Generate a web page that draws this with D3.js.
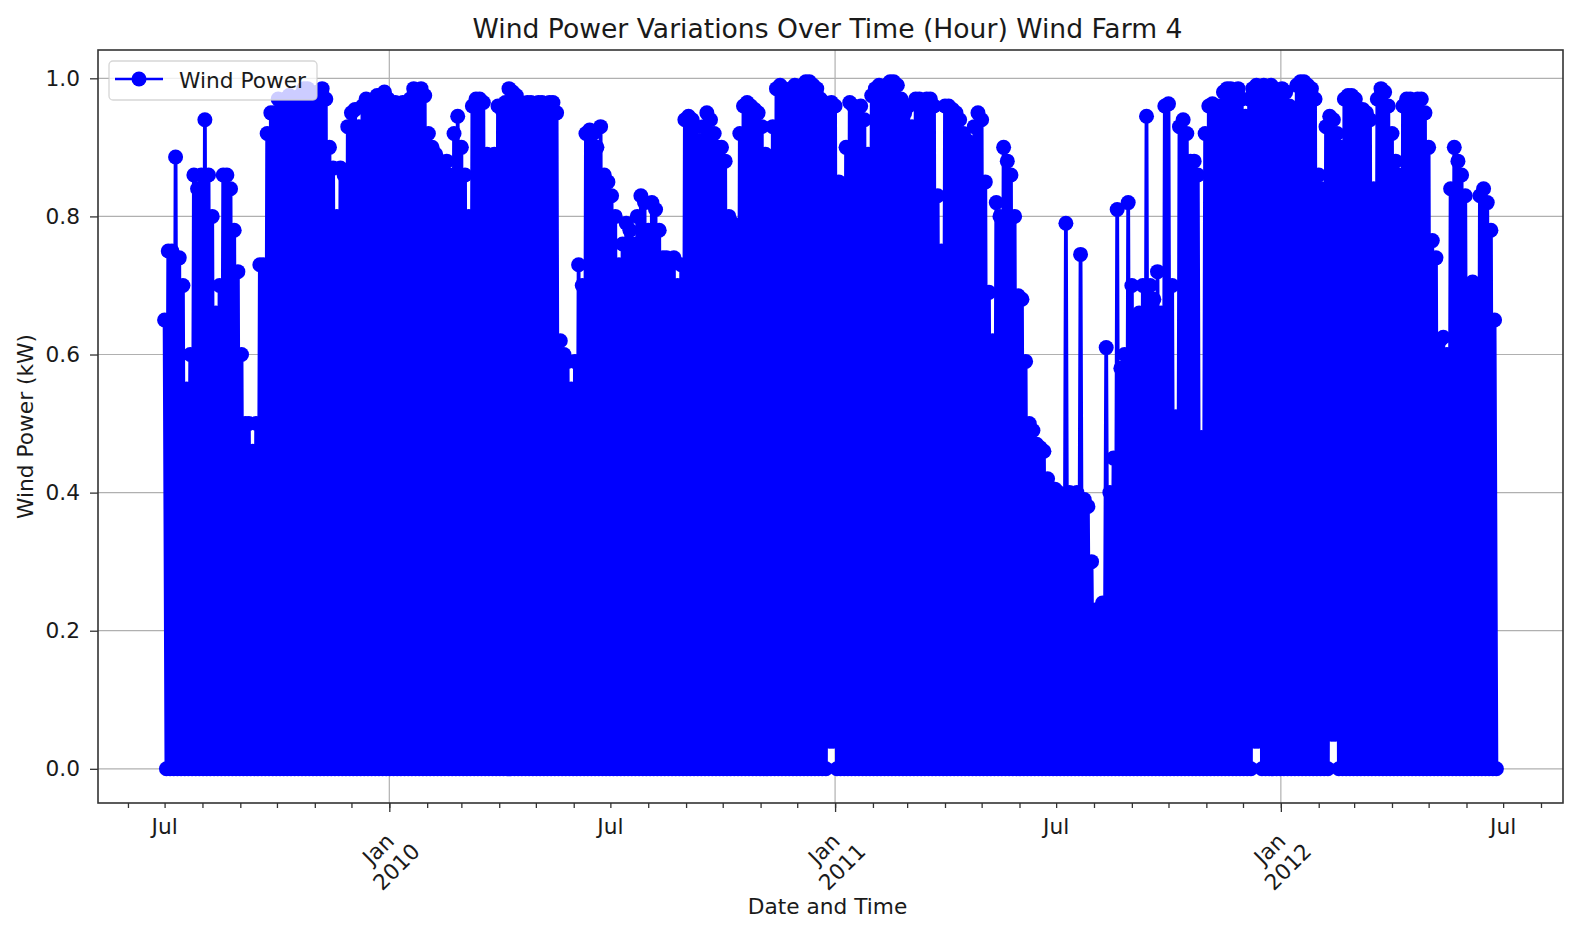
<!DOCTYPE html>
<html>
<head>
<meta charset="utf-8">
<script src="https://d3js.org/d3.v7.min.js"></script>
<style>
body { margin: 0; background: #fff; }
text { font-family: "DejaVu Sans", sans-serif; font-size: 21.7px; fill: #1a1a1a; }
</style>
</head>
<body>
<svg width="1576" height="938"></svg>
<script>
// readings: one peak then one low every 36 h, starting 1 Jul 2009
const startDate = "2009-07-01T00:00:00Z";
const stepHours = 36;

const power2009H2 = [
  0.65,0, 0.75,0, 0.75,0, 0.886,0, 0.74,0, 0.70,0, 0.55,0, 0.60,0, 0.86,0, 0.84,0,
  0.86,0, 0.94,0, 0.86,0, 0.80,0, 0.66,0, 0.70,0, 0.86,0, 0.86,0, 0.84,0, 0.78,0,
  0.72,0, 0.60,0, 0.50,0, 0.50,0, 0.46,0, 0.50,0, 0.73,0, 0.73,0, 0.92,0, 0.95,0,
  0.95,0, 0.97,0, 0.96,0, 0.97,0, 0.975,0, 0.97,0, 0.96,0, 0.975,0, 0.985,0, 0.985,0,
  0.98,0, 0.975,0, 0.98,0, 0.985,0, 0.97,0, 0.90,0, 0.87,0, 0.80,0, 0.87,0, 0.86,0,
  0.93,0, 0.95,0, 0.955,0, 0.93,0, 0.96,0, 0.97,0, 0.96,0, 0.965,0, 0.975,0, 0.975,0,
  0.98,0, 0.97,0
];
const power2010H1 = [
  0.96,0, 0.965,0, 0.955,0, 0.965,0, 0.96,0, 0.97,0, 0.985,0, 0.98,0, 0.985,0, 0.975,0,
  0.92,0, 0.90,0, 0.89,0, 0.88,0, 0.87,0, 0.88,0, 0.86,0, 0.92,0, 0.945,0, 0.90,0,
  0.86,0, 0.80,0, 0.96,0, 0.97,0, 0.97,0, 0.965,0, 0.89,0, 0.88,0, 0.89,0, 0.96,0,
  0.955,0, 0.965,0, 0.985,0, 0.98,0, 0.975,0, 0.965,0, 0.96,0, 0.965,0, 0.965,0, 0.96,0,
  0.965,0, 0.965,0, 0.96,0, 0.965,0, 0.965,0, 0.95,0, 0.62,0, 0.60,0, 0.59,0, 0.55,0,
  0.59,0, 0.73,0, 0.70,0, 0.92,0, 0.925,0, 0.92,0, 0.90,0, 0.93,0, 0.86,0, 0.85,0
];
const power2010H2 = [
  0.83,0, 0.80,0, 0.73,0, 0.76,0, 0.79,0, 0.78,0, 0.76,0, 0.80,0, 0.83,0, 0.82,0,
  0.78,0, 0.82,0, 0.81,0, 0.78,0, 0.74,0, 0.74,0, 0.73,0, 0.74,0, 0.70,0, 0.73,0,
  0.94,0, 0.945,0, 0.94,0, 0.93,0, 0.91,0, 0.93,0, 0.95,0, 0.94,0, 0.92,0, 0.90,0,
  0.90,0, 0.88,0, 0.80,0, 0.79,0, 0.78,0, 0.92,0, 0.96,0, 0.965,0, 0.96,0, 0.955,0,
  0.95,0, 0.93,0, 0.89,0, 0.88,0, 0.93,0, 0.985,0, 0.99,0, 0.985,0, 0.98,0, 0.985,0,
  0.99,0, 0.985,0, 0.99,0, 0.995,0, 0.995,0, 0.99,0, 0.985,0, 0.97,0, 0.965,0, 0.96,0.04,
  0.965,0.04
];
const power2011H1 = [
  0.96,0, 0.85,0, 0.84,0, 0.90,0, 0.965,0, 0.96,0, 0.95,0, 0.96,0, 0.94,0, 0.89,0,
  0.975,0, 0.985,0, 0.99,0, 0.985,0, 0.99,0, 0.995,0, 0.995,0, 0.99,0, 0.97,0, 0.95,0,
  0.96,0, 0.93,0, 0.97,0, 0.97,0, 0.965,0, 0.97,0, 0.97,0, 0.96,0, 0.83,0, 0.75,0,
  0.96,0, 0.96,0, 0.955,0, 0.95,0, 0.94,0, 0.92,0, 0.91,0, 0.90,0, 0.93,0, 0.95,0,
  0.94,0, 0.85,0, 0.69,0, 0.62,0, 0.82,0, 0.80,0, 0.90,0, 0.88,0, 0.86,0, 0.80,0,
  0.685,0, 0.68,0, 0.59,0, 0.50,0, 0.49,0, 0.47,0, 0.465,0, 0.46,0, 0.42,0, 0.40,0,
  0.405,0
];
const power2011H2 = [
  0.40,0, 0.39,0, 0.79,0, 0.40,0, 0.39,0, 0.40,0, 0.745,0, 0.39,0, 0.38,0, 0.30,0,
  0.23,0, 0.22,0, 0.24,0, 0.61,0, 0.40,0, 0.45,0, 0.81,0, 0.58,0, 0.60,0, 0.82,0,
  0.70,0, 0.65,0, 0.66,0, 0.70,0, 0.945,0, 0.70,0, 0.68,0, 0.72,0, 0.66,0, 0.96,0,
  0.963,0, 0.70,0, 0.51,0, 0.93,0, 0.94,0, 0.92,0, 0.88,0, 0.88,0, 0.86,0, 0.48,0,
  0.92,0, 0.96,0, 0.963,0, 0.95,0, 0.96,0, 0.98,0, 0.985,0, 0.985,0, 0.98,0, 0.985,0,
  0.97,0, 0.945,0, 0.97,0, 0.985,0.04, 0.99,0.04, 0.985,0, 0.99,0, 0.985,0, 0.99,0, 0.985,0,
  0.98,0
];
const power2012H1 = [
  0.985,0, 0.98,0, 0.96,0, 0.95,0, 0.99,0, 0.995,0, 0.995,0, 0.99,0, 0.985,0, 0.97,0,
  0.86,0, 0.84,0, 0.93,0, 0.945,0.05, 0.94,0.05, 0.92,0, 0.90,0, 0.97,0, 0.975,0, 0.975,0,
  0.97,0, 0.95,0, 0.955,0, 0.95,0, 0.94,0, 0.84,0, 0.97,0, 0.985,0, 0.98,0, 0.96,0,
  0.92,0, 0.88,0, 0.86,0, 0.96,0, 0.97,0, 0.97,0, 0.965,0, 0.97,0, 0.97,0, 0.95,0,
  0.90,0, 0.765,0, 0.74,0, 0.62,0, 0.625,0, 0.60,0, 0.84,0, 0.90,0, 0.88,0, 0.86,0,
  0.83,0, 0.70,0, 0.705,0, 0.70,0, 0.83,0, 0.84,0, 0.82,0, 0.78,0, 0.65,0
];

const yTicks = [0, 0.2, 0.4, 0.6, 0.8, 1.0];
const yDomain = [-0.0495, 1.041];
const chartTitle = "Wind Power Variations Over Time (Hour) Wind Farm 4";
const xLabel = "Date and Time";
const yLabel = "Wind Power (kW)";
const seriesName = "Wind Power";

const svg = d3.select("svg");
const L = 98, R = 1563, T = 50, B = 803;
const blue = "#0000ff";

const power = [].concat(power2009H2, power2010H1, power2010H2, power2011H1, power2011H2, power2012H1);
const t0 = Date.parse(startDate);
const data = power.map((v, k) => ({ t: new Date(t0 + k * stepHours * 3600e3), v }));

// matplotlib-style 5% margin on the time axis
const first = +data[0].t, last = +data[data.length - 1].t;
const pad = (last - first) * 0.05;
const x = d3.scaleUtc().domain([new Date(first - pad), new Date(last + pad)]).range([L, R]);
const y = d3.scaleLinear().domain(yDomain).range([B, T]);

const years = x.ticks(d3.utcYear.every(1));
const months = x.ticks(d3.utcMonth.every(1));

// grid
const grid = svg.append("g").attr("stroke", "#b0b0b0").attr("stroke-width", 1.2);
grid.selectAll(".gy").data(yTicks).join("line")
  .attr("x1", L).attr("x2", R).attr("y1", d => y(d)).attr("y2", d => y(d));
grid.selectAll(".gx").data(years).join("line")
  .attr("x1", d => x(d)).attr("x2", d => x(d)).attr("y1", T).attr("y2", B);

// data
svg.append("clipPath").attr("id", "plot")
  .append("rect").attr("x", L).attr("y", T).attr("width", R - L).attr("height", B - T);
const plot = svg.append("g").attr("clip-path", "url(#plot)");
plot.append("path").datum(data)
  .attr("fill", "none").attr("stroke", blue).attr("stroke-width", 3.8)
  .attr("stroke-linejoin", "round")
  .attr("d", d3.line().x(d => x(d.t)).y(d => y(d.v)));
plot.selectAll("circle").data(data).join("circle")
  .attr("cx", d => x(d.t)).attr("cy", d => y(d.v)).attr("r", 7.5).attr("fill", blue);

// axes
function styleTicks(g) {
  g.select(".domain").remove();
  g.selectAll(".tick line").attr("stroke", "#333").attr("stroke-width", 1.3);
}
svg.append("g").attr("transform", `translate(0,${B})`)
  .call(d3.axisBottom(x).tickValues(months).tickSize(5).tickFormat(""))
  .call(styleTicks);
svg.append("g").attr("transform", `translate(0,${B})`)
  .call(d3.axisBottom(x).tickValues(years).tickSize(9).tickFormat(""))
  .call(styleTicks);
svg.append("g").attr("transform", `translate(${L},0)`)
  .call(d3.axisLeft(y).tickValues(yTicks).tickSize(8).tickPadding(10).tickFormat(d3.format(".1f")))
  .call(styleTicks);

// x tick labels: "Jul" flat, "Jan / year" rotated
svg.selectAll(".jul").data(months.filter(d => d.getUTCMonth() === 6)).join("text")
  .attr("x", d => x(d)).attr("y", 834).attr("text-anchor", "middle")
  .text(d3.utcFormat("%b"));
const jan = svg.selectAll(".jan").data(years).join("g")
  .attr("transform", d => `translate(${x(d) - 2},858) rotate(-45)`);
jan.append("text").attr("y", -12.8).attr("text-anchor", "middle")
  .attr("dominant-baseline", "central").text(d3.utcFormat("%b"));
jan.append("text").attr("y", 12.8).attr("text-anchor", "middle")
  .attr("dominant-baseline", "central").text(d3.utcFormat("%Y"));

// spines
svg.append("rect").attr("x", L).attr("y", T).attr("width", R - L).attr("height", B - T)
  .attr("fill", "none").attr("stroke", "#333").attr("stroke-width", 1.6);

// titles
svg.append("text").attr("x", (L + R) / 2 - 3).attr("y", 38).attr("text-anchor", "middle")
  .style("font-size", "26.6px").text(chartTitle);
svg.append("text").attr("x", (L + R) / 2 - 3).attr("y", 914).attr("text-anchor", "middle").text(xLabel);
svg.append("text").attr("transform", `translate(25,${(T + B) / 2}) rotate(-90)`)
  .attr("text-anchor", "middle").attr("dominant-baseline", "central").text(yLabel);

// legend
const lg = svg.append("g");
lg.append("rect").attr("x", 109).attr("y", 61).attr("width", 208).attr("height", 39).attr("rx", 4)
  .attr("fill", "#fff").attr("fill-opacity", 0.8)
  .attr("stroke", "#cccccc").attr("stroke-opacity", 0.8).attr("stroke-width", 1.3);
lg.append("line").attr("x1", 115).attr("x2", 163).attr("y1", 79).attr("y2", 79)
  .attr("stroke", blue).attr("stroke-width", 2.4);
lg.append("circle").attr("cx", 139).attr("cy", 79).attr("r", 7.5).attr("fill", blue);
lg.append("text").attr("x", 179).attr("y", 88).text(seriesName);
</script>
</body>
</html>
